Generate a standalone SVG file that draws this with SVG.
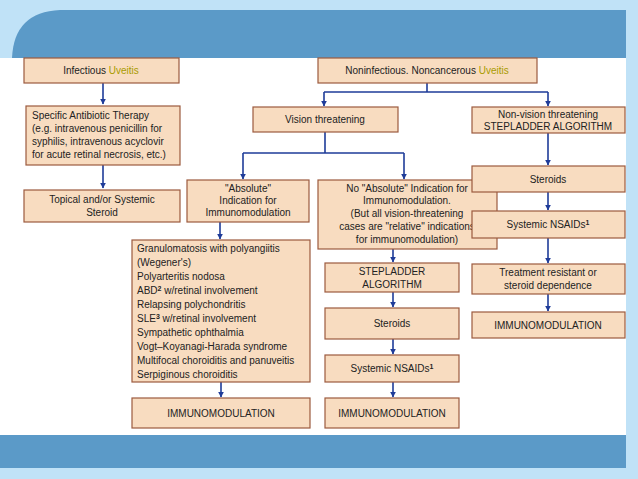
<svg xmlns="http://www.w3.org/2000/svg" width="638" height="479" viewBox="0 0 638 479">
<defs>
<marker id="ah" viewBox="0 0 10 10" refX="9" refY="5" markerWidth="6" markerHeight="6" orient="auto" markerUnits="userSpaceOnUse"><path d="M0,0 L10,5 L0,10 z" fill="#1f3c99"/></marker>
<style>
.b{fill:#f8dcc0;stroke:#9c5a3e;stroke-width:1.2}
text{font-family:"Liberation Sans",Arial,sans-serif;font-size:10px;fill:#222;text-anchor:middle}
.l{text-anchor:start}
.u{fill:#a89b00}
.c{fill:none;stroke:#1f3c99;stroke-width:1.6}
.a{marker-end:url(#ah)}
</style>
</defs>
<rect x="0" y="0" width="638" height="479" fill="#c0e2f7"/>
<path d="M12,58 Q14,12 60,10 L626,10 L626,58 Z" fill="#5b9ac8"/>
<rect x="0" y="58" width="626" height="377" fill="#ffffff"/>
<rect x="0" y="435" width="626" height="33" fill="#5b9ac8"/>
<g id="connectors">
<path class="c a" d="M103,83 V104"/>
<path class="c a" d="M103,165 V188"/>
<path class="c" d="M427,83 V92 M324,92 H548"/>
<path class="c a" d="M324,92 V106"/>
<path class="c a" d="M548,92 V106"/>
<path class="c" d="M325,132 V153 M243,153 H404"/>
<path class="c a" d="M243,153 V179"/>
<path class="c a" d="M404,153 V179"/>
<path class="c a" d="M220,222 V239"/>
<path class="c a" d="M221,382 V397"/>
<path class="c a" d="M393,249 V262"/>
<path class="c a" d="M393,292 V307"/>
<path class="c a" d="M393,339 V354"/>
<path class="c a" d="M393,382 V397"/>
<path class="c a" d="M548,133 V165"/>
<path class="c a" d="M548,192 V210"/>
<path class="c a" d="M548,238 V263"/>
<path class="c a" d="M548,294 V311"/>
</g>
<g id="infectious"><rect class="b" x="24" y="58" width="155" height="25"/><text x="101" y="74">Infectious <tspan class="u">Uveitis</tspan></text></g>
<g id="antibiotic"><rect class="b" x="26" y="106" width="154" height="59"/><text class="l" x="32" y="119">Specific Antibiotic Therapy</text><text class="l" x="32" y="132">(e.g. intravenous penicillin for</text><text class="l" x="32" y="145">syphilis, intravenous acyclovir</text><text class="l" x="32" y="158">for acute retinal necrosis, etc.)</text></g>
<g id="topical"><rect class="b" x="24" y="190" width="156" height="32"/><text x="102" y="203">Topical and/or Systemic</text><text x="102" y="216">Steroid</text></g>
<g id="noninfectious"><rect class="b" x="318" y="58" width="219" height="25"/><text x="427" y="74">Noninfectious. Noncancerous <tspan class="u">Uveitis</tspan></text></g>
<g id="vision"><rect class="b" x="253" y="107" width="145" height="25"/><text x="325" y="123">Vision threatening</text></g>
<g id="nonvision"><rect class="b" x="472" y="107" width="153" height="26"/><text x="548" y="118">Non-vision threatening</text><text x="548" y="130">STEPLADDER ALGORITHM</text></g>
<g id="absolute"><rect class="b" x="187" y="180" width="122" height="42"/><text x="248" y="192">"Absolute"</text><text x="248" y="204">Indication for</text><text x="248" y="216">Immunomodulation</text></g>
<g id="noabsolute"><rect class="b" x="318" y="180" width="179" height="69"/><text x="407" y="192">No "Absolute" Indication for</text><text x="407" y="204">Immunomodulation.</text><text x="407" y="217">(But all vision-threatening</text><text x="407" y="230">cases are "relative" indications</text><text x="407" y="243">for immunomodulation)</text></g>
<g id="list"><rect class="b" x="132" y="240" width="178" height="142"/>
<text class="l" x="137" y="252">Granulomatosis with polyangiitis</text>
<text class="l" x="137" y="266">(Wegener's)</text>
<text class="l" x="137" y="280">Polyarteritis nodosa</text>
<text class="l" x="137" y="294">ABD<tspan font-size="7" dy="-3" font-weight="bold">2</tspan><tspan dy="3"> w/retinal involvement</tspan></text>
<text class="l" x="137" y="308">Relapsing polychondritis</text>
<text class="l" x="137" y="322">SLE<tspan font-size="7" dy="-3" font-weight="bold">3</tspan><tspan dy="3"> w/retinal involvement</tspan></text>
<text class="l" x="137" y="336">Sympathetic ophthalmia</text>
<text class="l" x="137" y="350">Vogt–Koyanagi-Harada syndrome</text>
<text class="l" x="137" y="364">Multifocal choroiditis and panuveitis</text>
<text class="l" x="137" y="378">Serpiginous choroiditis</text></g>
<g id="immuno-left"><rect class="b" x="132" y="398" width="178" height="30"/><text x="221" y="417">IMMUNOMODULATION</text></g>
<g id="stepladder"><rect class="b" x="325" y="263" width="134" height="29"/><text x="392" y="275">STEPLADDER</text><text x="392" y="288">ALGORITHM</text></g>
<g id="steroids-mid"><rect class="b" x="325" y="308" width="134" height="31"/><text x="392" y="327">Steroids</text></g>
<g id="nsaids-mid"><rect class="b" x="325" y="355" width="134" height="27"/><text x="392" y="372">Systemic NSAIDs<tspan font-size="7" dy="-3" font-weight="bold">1</tspan></text></g>
<g id="immuno-mid"><rect class="b" x="325" y="398" width="134" height="30"/><text x="392" y="417">IMMUNOMODULATION</text></g>
<g id="steroids-right"><rect class="b" x="472" y="166" width="153" height="26"/><text x="548" y="183">Steroids</text></g>
<g id="nsaids-right"><rect class="b" x="472" y="211" width="153" height="27"/><text x="548" y="228">Systemic NSAIDs<tspan font-size="7" dy="-3" font-weight="bold">1</tspan></text></g>
<g id="resistant"><rect class="b" x="472" y="264" width="153" height="30"/><text x="548" y="276">Treatment resistant or</text><text x="548" y="289">steroid dependence</text></g>
<g id="immuno-right"><rect class="b" x="472" y="312" width="153" height="26"/><text x="548" y="329">IMMUNOMODULATION</text></g>
</svg>
